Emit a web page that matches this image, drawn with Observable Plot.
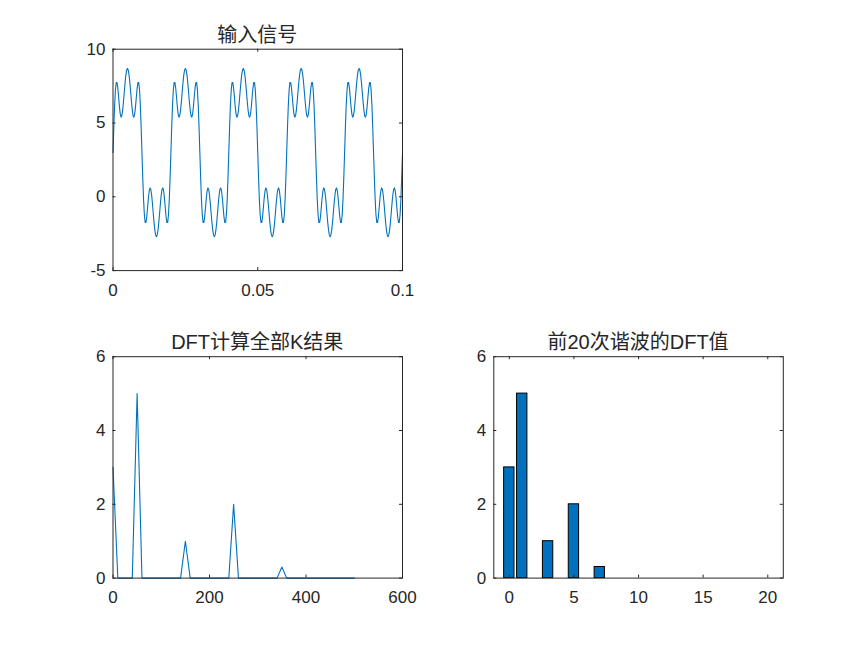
<!DOCTYPE html>
<html>
<head>
<meta charset="utf-8">
<script src="https://cdn.jsdelivr.net/npm/d3@7"></script>
<script src="https://cdn.jsdelivr.net/npm/@observablehq/plot@0.6"></script>
<style>
  html, body { margin: 0; padding: 0; background: #fff; }
  #fig { position: relative; width: 865px; height: 649px; background: #fff; overflow: hidden; }
  .panel { position: absolute; }
  .title { position: absolute; text-align: center; font-family: "Liberation Sans", "Noto Sans CJK SC", sans-serif; font-size: 20px; line-height: 24px; color: #262626; white-space: nowrap; }
</style>
</head>
<body>
<div id="fig"></div>
<script>
// ---- Data ----
// One period (20 ms) of the input signal, sampled every 1/72 of a period
const signalPeriodValues = [3.00,4.71,6.18,7.22,7.74,7.74,7.35,6.74,6.10,5.62,5.40,5.49,5.86,6.42,7.08,7.72,8.24,8.58,8.70,8.58,8.24,7.72,7.08,6.42,5.86,5.49,5.40,5.62,6.10,6.74,7.35,7.74,7.74,7.22,6.18,4.71,
  3.00,1.29,-0.18,-1.22,-1.74,-1.74,-1.35,-0.74,-0.10,0.38,0.60,0.51,0.14,-0.42,-1.08,-1.72,-2.24,-2.58,-2.70,-2.58,-2.24,-1.72,-1.08,-0.42,0.14,0.51,0.60,0.38,-0.10,-0.74,-1.35,-1.74,-1.74,-1.22,-0.18,1.29];
const signalPeriod = 0.02;     // seconds
const signalCycles = 5;        // periods shown

// DFT over all K (frequency in Hz, magnitude)
const dftFreq = [0,10,20,30,40,50,60,70,80,90,100,110,120,130,140,150,160,170,180,190,200,210,220,230,240,250,260,270,280,290,300,310,320,330,340,350,360,370,380,390,400,410,420,430,440,450,460,470,480,490,500];
const dftMag  = [3,0,0,0,0,5,0,0,0,0,0,0,0,0,0,1,0,0,0,0,0,0,0,0,0,2,0,0,0,0,0,0,0,0,0,0.3,0,0,0,0,0,0,0,0,0,0,0,0,0,0,0];

// First 20 harmonics
const harmonicOrder = [0,1,2,3,4,5,6,7,8,9,10,11,12,13,14,15,16,17,18,19,20];
const harmonicValue = [3,5,0,1,0,2,0,0.3,0,0,0,0,0,0,0,0,0,0,0,0,0];

// Tick labels
const sigXTicks = [0, 0.05, 0.1];
const sigYTicks = [-5, 0, 5, 10];
const dftXTicks = [0, 200, 400, 600];
const dftYTicks = [0, 2, 4, 6];
const harXTicks = [0, 5, 10, 15, 20];
const harYTicks = [0, 2, 4, 6];

const titles = ["输入信号", "DFT计算全部K结果", "前20次谐波的DFT值"];

// ---- Build tables ----
const nPer = signalPeriodValues.length;
const signal = [];
for (let c = 0; c < signalCycles; c++) {
  signalPeriodValues.forEach((v, i) => signal.push({t: (c * nPer + i) * signalPeriod / nPer, v}));
}
signal.push({t: signalCycles * signalPeriod, v: signalPeriodValues[0]});

const dft = dftFreq.map((f, i) => ({f, m: dftMag[i]}));
const harm = harmonicOrder.map((k, i) => ({k, v: harmonicValue[i]}));

// ---- Layout (MATLAB 2x2 subplot positions) ----
const AX = "#262626";
const BLUE = "#0072BD";
const FONT = `"Liberation Sans", Arial, "Noto Sans CJK SC", sans-serif`;
const fig = document.getElementById("fig");

function panel({left, top, width, height, ax, xDomain, yDomain, xTicks, yTicks, marks}) {
  const mL = ax.x0 - left, mR = left + width - ax.x1, mT = ax.y0 - top, mB = top + height - ax.y1;
  const pw = ax.x1 - ax.x0, ph = ax.y1 - ax.y0;
  const tl = 3;
  const svg = Plot.plot({
    width, height, marginLeft: mL, marginRight: mR, marginTop: mT, marginBottom: mB,
    x: {domain: xDomain}, y: {domain: yDomain},
    style: {fontFamily: FONT, fontSize: "17px", color: AX, background: "transparent", overflow: "visible"},
    marks: [
      ...marks,
      Plot.frame({stroke: AX, strokeWidth: 1}),
      Plot.tickX(xTicks, {x: d => d, insetTop: ph - tl, stroke: AX, strokeWidth: 1}),
      Plot.tickX(xTicks, {x: d => d, insetBottom: ph - tl, stroke: AX, strokeWidth: 1}),
      Plot.tickY(yTicks, {y: d => d, insetRight: pw - tl, stroke: AX, strokeWidth: 1}),
      Plot.tickY(yTicks, {y: d => d, insetLeft: pw - tl, stroke: AX, strokeWidth: 1}),
      Plot.axisX({ticks: xTicks, tickSize: 0, tickPadding: 13, tickFormat: d => String(d), label: null, fontSize: 17, fill: AX}),
      Plot.axisY({ticks: yTicks, tickSize: 0, tickPadding: 7.5, tickFormat: d => String(d), label: null, fontSize: 17, fill: AX})
    ]
  });
  svg.classList.add("panel");
  svg.style.left = left + "px";
  svg.style.top = top + "px";
  fig.appendChild(svg);
}

function title(text, ax, cy) {
  const d = document.createElement("div");
  d.className = "title";
  d.textContent = text;
  d.style.left = ax.x0 + "px";
  d.style.width = (ax.x1 - ax.x0) + "px";
  d.style.top = (cy - 12) + "px";
  fig.appendChild(d);
}

const axTL = {x0: 112.5, x1: 402, y0: 48.7, y1: 270.1};
const axBL = {x0: 112.5, x1: 402, y0: 356.2, y1: 577.6};
const axBR = {x0: 493.3, x1: 782.8, y0: 356.2, y1: 577.6};

panel({left: 0, top: 0, width: 432, height: 320, ax: axTL, xDomain: [0, 0.1], yDomain: [-5, 10],
  xTicks: sigXTicks, yTicks: sigYTicks,
  marks: [Plot.line(signal, {x: "t", y: "v", stroke: BLUE, strokeWidth: 1.1})]});

panel({left: 0, top: 320, width: 432, height: 329, ax: axBL, xDomain: [0, 600], yDomain: [0, 6],
  xTicks: dftXTicks, yTicks: dftYTicks,
  marks: [Plot.line(dft, {x: "f", y: "m", stroke: BLUE, strokeWidth: 1.1})]});

panel({left: 432, top: 320, width: 433, height: 329, ax: axBR, xDomain: [-1.2, 21.2], yDomain: [0, 6],
  xTicks: harXTicks, yTicks: harYTicks,
  marks: [Plot.rectY(harm.filter(d => d.v !== 0), {x1: d => d.k - 0.4, x2: d => d.k + 0.4, y1: 0, y2: "v", fill: BLUE, stroke: "#000", strokeWidth: 1})]});

title(titles[0], axTL, 35);
title(titles[1], axBL, 341.7);
title(titles[2], axBR, 341.7);
</script>
</body>
</html>
